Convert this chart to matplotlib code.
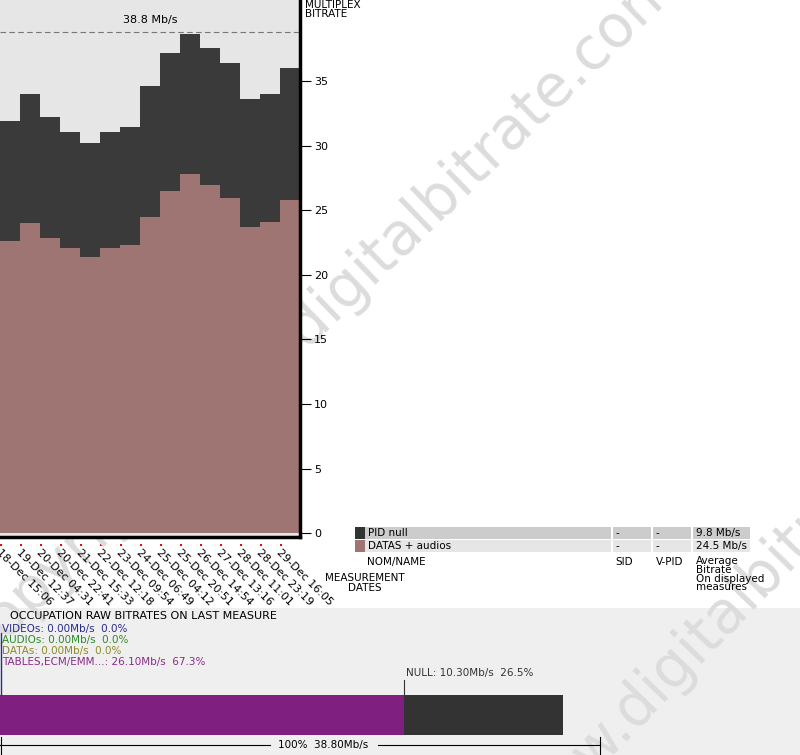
import matplotlib
matplotlib.use("Agg")
import matplotlib.pyplot as plt
import numpy as np

dates = ["18-Dec 15:06","19-Dec 12:37","20-Dec 04:31","20-Dec 22:41","21-Dec 15:33",
         "22-Dec 12:18","23-Dec 09:54","24-Dec 06:49","25-Dec 04:12","25-Dec 20:51",
         "26-Dec 14:54","27-Dec 13:16","28-Dec 11:01","28-Dec 23:19","29-Dec 16:05"]
datas = [22.6,24.0,22.9,22.1,21.4,22.1,22.3,24.5,26.5,27.8,27.0,26.0,23.7,24.1,25.8]
total = [31.9,34.0,32.2,31.1,30.2,31.1,31.5,34.6,37.2,38.7,37.6,36.4,33.6,34.0,36.0]
pid_null = [t-d for t,d in zip(total,datas)]
avg_pid_null = 9.8
avg_datas = 24.5
max_rate = 38.8
yticks = [0,5,10,15,20,25,30,35]

W,H = 800,755
fig = plt.figure(figsize=(8,7.55), dpi=100)
bg = fig.add_axes([0,0,1,1]); bg.set_xlim(0,W); bg.set_ylim(H,0); bg.axis('off')
def rect(x,y,w,h,c,**k): bg.add_patch(plt.Rectangle((x,y),w,h,color=c,lw=0,**k))
rect(0,608,800,147,'#efefef')
# watermarks
bg.text(320,315,"copyright www.digitalbitrate.com",rotation=44,fontsize=42,color='#dcdcdc',
        ha='center',va='center',zorder=1.5,clip_on=True)
bg.text(700,640,"www.digitalbitrate",rotation=46,fontsize=42,color='#dcdcdc',ha='center',va='center',
        zorder=1.5,clip_on=True)

ax = fig.add_axes([0,(H-537)/H,300/W,537/H])
ax.set_facecolor('#e6e6e6')
x = np.arange(len(datas)+1)
d = datas+[datas[-1]]; p = pid_null+[pid_null[-1]]
ax.stackplot(x,d,p,colors=['#9e7572','#3a3a3a'],step='post')
ax.set_xlim(0,15); ax.set_ylim(-0.3,41.3)
ax.axhline(max_rate,color='#777777',ls=(0,(5,3)),lw=0.8)
ax.text(7.5,max_rate+0.6,f"{max_rate} Mb/s",ha='center',va='bottom',fontsize=8)
for s in ['top','left']: ax.spines[s].set_visible(False)
ax.spines['right'].set_linewidth(2.5); ax.spines['bottom'].set_linewidth(2.5)
ax.yaxis.tick_right(); ax.set_yticks(yticks)
ax.tick_params(axis='y',length=8,width=0.8,labelsize=8,pad=2)
ax.set_xticks([])
bg.text(305,0,"MULTIPLEX\nBITRATE",fontsize=7.5,va='top',linespacing=0.9)
for i,lab in enumerate(dates):
    px = i*20
    rect(px,544,2,2,'#ff0000')
    bg.text(px+2,547,lab,rotation=-45,rotation_mode='anchor',ha='left',va='top',fontsize=8,zorder=3)
bg.text(365,583,"MEASUREMENT\nDATES",fontsize=7.5,ha='center',va='center',linespacing=0.9,zorder=3)
# legend table
rect(355,527,10,12,'#333333'); rect(355,540,10,12,'#9e7572')
for (x0,w) in [(365,246),(613,38),(653,38),(693,57)]:
    rect(x0,527,w,12,'#cccccc'); rect(x0,540,w,12,'#e6e6e6')
kw = dict(fontsize=7.5,va='center',zorder=3)
bg.text(368,533,"PID null",**kw); bg.text(368,546,"DATAS + audios",**kw)
for xx in (616,656): bg.text(xx,533,"-",**kw); bg.text(xx,546,"-",**kw)
bg.text(696,533,f"{avg_pid_null:.1f} Mb/s",**kw); bg.text(696,546,f"{avg_datas:.1f} Mb/s",**kw)
bg.text(367,562,"NOM/NAME",**kw); bg.text(615,562,"SID",**kw)
bg.text(656,562,"V-PID",**kw)
bg.text(696,556,"Average\nBitrate\nOn displayed\nmeasures",fontsize=7.5,va='top',linespacing=0.85,zorder=3)
# bottom panel
bg.text(10,616,"OCCUPATION RAW BITRATES ON LAST MEASURE",fontsize=8,va='center',zorder=3)
rows=[("VIDEOs: 0.00Mb/s  0.0%",'#2a2a8a'),("AUDIOs: 0.00Mb/s  0.0%",'#2a8a2a'),
      ("DATAs: 0.00Mb/s  0.0%",'#8a8a2a'),("TABLES,ECM/EMM...: 26.10Mb/s  67.3%",'#8a2a8a')]
for i,(t,c) in enumerate(rows): bg.text(2,629+i*11,t,fontsize=7.5,color=c,va='center',zorder=3)
bg.plot([0.5,0.5],[633,695],color='#2a2a8a',lw=1,zorder=3)
tables_px = 600*26.10/38.80; null_px = 600*10.30/38.80
rect(0,695,tables_px,40,'#7f1f7f',zorder=2); rect(tables_px,695,null_px,40,'#333333',zorder=2)
bg.plot([tables_px]*2,[680,695],color='#333',lw=0.8,zorder=3)
bg.text(tables_px+2,673,"NULL: 10.30Mb/s  26.5%",fontsize=7.5,va='center',color='#333',zorder=3)
bg.plot([0,270],[745,745],color='k',lw=0.8,zorder=3); bg.plot([378,600],[745,745],color='k',lw=0.8,zorder=3)
bg.plot([1,1],[737,755],color='k',lw=0.8,zorder=3); bg.plot([600,600],[737,755],color='k',lw=0.8,zorder=3)
bg.text(323,745,"100%  38.80Mb/s",fontsize=7.5,ha='center',va='center',zorder=3)
fig.savefig("out.png",dpi=100)
